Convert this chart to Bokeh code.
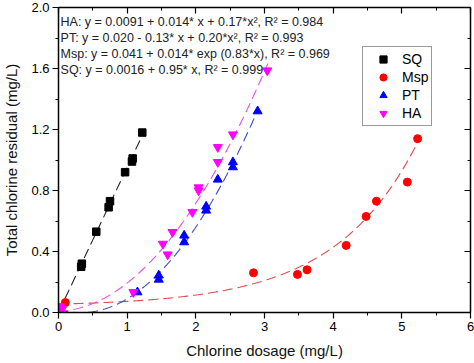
import numpy as np
from bokeh.plotting import figure
from bokeh.models import (LinearAxis, FixedTicker, Legend, LegendItem, Label,
                          Range1d)
from bokeh.embed import file_html
from bokeh.resources import INLINE

# ---------------- data ----------------
sq_x = [0.02, 0.33, 0.34, 0.55, 0.73, 0.75, 0.97, 1.07, 1.08, 1.22]
sq_y = [0.02, 0.30, 0.32, 0.53, 0.69, 0.73, 0.92, 0.99, 1.01, 1.18]

msp_x = [0.10, 2.84, 3.48, 3.62, 4.19, 4.48, 4.63, 5.08, 5.23]
msp_y = [0.065, 0.26, 0.25, 0.28, 0.44, 0.63, 0.73, 0.855, 1.14]

pt_x = [0.02, 1.15, 1.46, 1.46, 1.83, 1.83, 2.15, 2.15, 2.32, 2.54, 2.54, 2.90]
pt_y = [0.01, 0.133, 0.243, 0.216, 0.505, 0.461, 0.695, 0.669, 0.872, 0.986, 0.953, 1.32]

ha_x = [0.02, 0.05, 1.09, 1.52, 1.59, 1.66, 1.95, 2.04, 2.04, 2.32, 2.32, 2.54, 3.04]
ha_y = [0.04, 0.02, 0.133, 0.45, 0.38, 0.527, 0.658, 0.82, 0.80, 0.986, 1.084, 1.167, 1.587]

# fit parameters (from the equations shown on the chart)
ha_fit = (0.0091, 0.014, 0.17)
pt_fit = (0.020, -0.13, 0.20)
msp_fit = (0.041, 0.014, 0.83)
sq_fit = (0.0016, 0.95)
fit_xmax = {"SQ": 1.22, "Msp": 5.25, "PT": 2.90, "HA": 3.05}

eq_labels = [
    "HA: y = 0.0091 + 0.014* x + 0.17*x\u00b2, R\u00b2 = 0.984",
    "PT: y = 0.020 - 0.13* x + 0.20*x\u00b2, R\u00b2 = 0.993",
    "Msp: y = 0.041 + 0.014* exp (0.83*x), R\u00b2 = 0.969",
    "SQ: y = 0.0016 + 0.95* x, R\u00b2 = 0.999",
]
series_names = ["SQ", "Msp", "PT", "HA"]
x_ticks = [0, 1, 2, 3, 4, 5, 6]
y_ticks = [0.0, 0.4, 0.8, 1.2, 1.6, 2.0]

FONT = "Liberation Sans"

p = figure(width=474, height=363, output_backend="svg", toolbar_location=None,
           x_range=Range1d(0, 6), y_range=Range1d(0, 2),
           x_axis_location=None, y_axis_location=None,
           min_border_left=55, min_border_right=4, min_border_top=7,
           min_border_bottom=51)
p.grid.visible = False
p.outline_line_color = None
p.background_fill_color = "white"
p.border_fill_color = "white"

x_minor = [0.5 + i for i in range(6)]
y_minor = [0.2 + 0.4 * i for i in range(5)]

def make_axis(loc, ticks, minor, fmt_labels, show_labels):
    ax = LinearAxis(ticker=FixedTicker(ticks=ticks, minor_ticks=minor))
    ax.axis_line_color = "black"
    ax.axis_line_width = 1.5
    ax.major_tick_line_color = "black"
    ax.minor_tick_line_color = "black"
    ax.major_tick_line_width = 1.2
    ax.minor_tick_line_width = 1.0
    if show_labels:
        ax.major_tick_out = 6
        ax.major_tick_in = 0
        ax.minor_tick_out = 3
        ax.minor_tick_in = 0
        ax.major_label_text_font = FONT
        ax.major_label_text_font_size = "13px"
        ax.major_label_text_color = "black"
        ax.major_label_standoff = 3
        ax.major_label_overrides = fmt_labels
    else:
        ax.major_tick_out = 0
        ax.major_tick_in = 6
        ax.minor_tick_out = 0
        ax.minor_tick_in = 3
        ax.major_label_overrides = {t: "" for t in ticks}
        ax.major_label_standoff = 0
    p.add_layout(ax, loc)
    return ax

xl = {t: str(t) for t in x_ticks}
yl = {t: f"{t:.1f}" for t in y_ticks}
bx = make_axis("below", x_ticks, x_minor, xl, True)
ly = make_axis("left", y_ticks, y_minor, yl, True)
make_axis("above", x_ticks, x_minor, xl, False)
make_axis("right", y_ticks, y_minor, yl, False)

bx.axis_label = "Chlorine dosage (mg/L)"
ly.axis_label = "Total chlorine residual (mg/L)"
for ax in (bx, ly):
    ax.axis_label_text_font = FONT
    ax.axis_label_text_font_size = "15px"
    ax.axis_label_text_font_style = "normal"
    ax.axis_label_text_color = "#111111"
bx.axis_label_standoff = 8
ly.axis_label_standoff = 8

# ---------------- fit curves ----------------
dash = "10 5"
xs = np.linspace(0, fit_xmax["SQ"], 50)
p.line(xs, sq_fit[0] + sq_fit[1] * xs, line_color="#222222", line_dash=dash, line_width=1.1)
xs = np.linspace(0, fit_xmax["Msp"], 200)
p.line(xs, msp_fit[0] + msp_fit[1] * np.exp(msp_fit[2] * xs), line_color="#e04a4a",
       line_dash=dash, line_width=1.1)
xs = np.linspace(0, fit_xmax["PT"], 200)
p.line(xs, pt_fit[0] + pt_fit[1] * xs + pt_fit[2] * xs ** 2, line_color="#3a4ac8",
       line_dash=dash, line_width=1.1)
xs = np.linspace(0, fit_xmax["HA"], 200)
p.line(xs, ha_fit[0] + ha_fit[1] * xs + ha_fit[2] * xs ** 2, line_color="#e050e0",
       line_dash=dash, line_width=1.1)

# ---------------- markers ----------------
r_sq = p.scatter(sq_x, sq_y, marker="square", size=7.5, color="black")
r_msp = p.scatter(msp_x, msp_y, marker="circle", size=8, color="#ff0000")
r_pt = p.scatter(pt_x, pt_y, marker="triangle", size=9, color="#0000ff")
r_ha = p.scatter(ha_x, ha_y, marker="inverted_triangle", size=9, color="#ff00ff")

legend = Legend(items=[LegendItem(label=n, renderers=[r]) for n, r in
                       zip(series_names, [r_sq, r_msp, r_pt, r_ha])],
                location=(304, 186), padding=3, margin=0, spacing=0,
                glyph_width=34, glyph_height=18, label_height=18,
                label_standoff=2, label_text_font=FONT,
                label_text_font_size="14px", label_text_color="black",
                border_line_color="#333333", border_line_width=1,
                background_fill_alpha=1)
p.add_layout(legend, "center")

# ---------------- equations ----------------
for i, t in enumerate(eq_labels):
    p.add_layout(Label(x=0.03, y=1.904 - 0.105 * i, text=t, text_font=FONT,
                       text_font_size="12.5px", text_baseline="middle",
                       text_color="#222222"))

open("out.html", "w").write(file_html(p, INLINE))
